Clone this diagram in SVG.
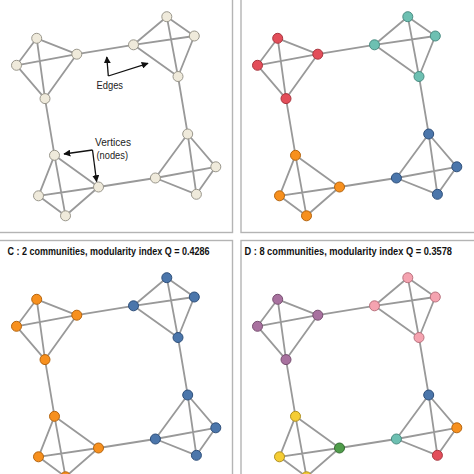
<svg xmlns="http://www.w3.org/2000/svg" xmlns:xlink="http://www.w3.org/1999/xlink" width="474" height="474" viewBox="0 0 474 474">
<style>
.frame{fill:none;stroke:#b4b4b4;stroke-width:1.4}
.e{stroke:#999999;stroke-width:1.8;fill:none}
circle{stroke-width:1;r:5px}
.bg{fill:#efeadb;stroke:#9a978c}
.rd{fill:#e34e5a;stroke:#a8363f}
.tl{fill:#6dc0b2;stroke:#4a8c82}
.or{fill:#f7901e;stroke:#b5650f}
.bl{fill:#4b76ab;stroke:#2e4f7a}
.pu{fill:#a8719f;stroke:#774f70}
.pk{fill:#f5a3b0;stroke:#b9727e}
.ye{fill:#f5cd34;stroke:#b09020}
.gr{fill:#4f9c4a;stroke:#336b30}
.lbl{font-family:"Liberation Sans",Arial,sans-serif;font-size:11.5px;fill:#222}
.ttl{font-family:"Liberation Sans",Arial,sans-serif;font-size:10px;font-weight:bold;fill:#111}
.ar{stroke:#111;stroke-width:1.3;fill:none}
</style>
<defs>
<marker id="ah" viewBox="0 0 10 10" refX="9" refY="5" markerWidth="7" markerHeight="7" markerUnits="userSpaceOnUse" orient="auto">
<path d="M0,0 L10,5 L0,10 z" fill="#111"/>
</marker>
<g id="edges">
<path class="e" d="M36.7,38.3L16.5,65.3M36.7,38.3L76.8,54.2M36.7,38.3L45,98.6M16.5,65.3L76.8,54.2M16.5,65.3L45,98.6M76.8,54.2L45,98.6"/>
<path class="e" d="M166.8,16.7L194.3,36M166.8,16.7L133.5,44.8M166.8,16.7L178,76.5M133.5,44.8L194.3,36M133.5,44.8L178,76.5M194.3,36L178,76.5"/>
<path class="e" d="M54.5,155.3L38.5,195.8M54.5,155.3L98.5,187M54.5,155.3L65.5,215.8M38.5,195.8L98.5,187M38.5,195.8L65.5,215.8M98.5,187L65.5,215.8"/>
<path class="e" d="M187.7,134L215.8,166.8M187.7,134L155.4,178M187.7,134L196.4,194.3M155.4,178L215.8,166.8M155.4,178L196.4,194.3M215.8,166.8L196.4,194.3"/>
<path class="e" d="M76.8,54.2L133.5,44.8M178,76.5L187.7,134M45,98.6L54.5,155.3M98.5,187L155.4,178"/>
</g>
</defs>
<g id="frames">
<rect class="frame" x="-5" y="-5" width="237.5" height="237.5"/>
<rect class="frame" x="241" y="-5" width="245" height="237.5"/>
<rect class="frame" x="-5" y="240.5" width="237.5" height="245"/>
<rect class="frame" x="241" y="240.5" width="245" height="245"/>
</g>
<g id="connectors">
<use xlink:href="#edges"/>
<use xlink:href="#edges" transform="translate(241,0)"/>
<use xlink:href="#edges" transform="translate(0,261)"/>
<use xlink:href="#edges" transform="translate(241,261)"/>
</g>
<g id="panelA">
<g id="A1"><circle class="bg" cx="36.7" cy="38.3" r="5"/></g>
<g id="A2"><circle class="bg" cx="16.5" cy="65.3" r="5"/></g>
<g id="A3"><circle class="bg" cx="76.8" cy="54.2" r="5"/></g>
<g id="A4"><circle class="bg" cx="45" cy="98.6" r="5"/></g>
<g id="A5"><circle class="bg" cx="166.8" cy="16.7" r="5"/></g>
<g id="A6"><circle class="bg" cx="194.3" cy="36" r="5"/></g>
<g id="A7"><circle class="bg" cx="133.5" cy="44.8" r="5"/></g>
<g id="A8"><circle class="bg" cx="178" cy="76.5" r="5"/></g>
<g id="A9"><circle class="bg" cx="54.5" cy="155.3" r="5"/></g>
<g id="A10"><circle class="bg" cx="38.5" cy="195.8" r="5"/></g>
<g id="A11"><circle class="bg" cx="98.5" cy="187" r="5"/></g>
<g id="A12"><circle class="bg" cx="65.5" cy="215.8" r="5"/></g>
<g id="A13"><circle class="bg" cx="187.7" cy="134" r="5"/></g>
<g id="A14"><circle class="bg" cx="215.8" cy="166.8" r="5"/></g>
<g id="A15"><circle class="bg" cx="155.4" cy="178" r="5"/></g>
<g id="A16"><circle class="bg" cx="196.4" cy="194.3" r="5"/></g>
</g>
<g id="annotations">
<path class="ar" d="M108.3,76 L106.8,57" marker-end="url(#ah)"/>
<path class="ar" d="M108.3,76 L148,63.3" marker-end="url(#ah)"/>
<text class="lbl" x="96.5" y="88.5" textLength="26.5" lengthAdjust="spacingAndGlyphs">Edges</text>
<path class="ar" d="M92.5,150 L64,154" marker-end="url(#ah)"/>
<path class="ar" d="M92.5,150 L96.6,181.5" marker-end="url(#ah)"/>
<text class="lbl" x="95" y="145.5" textLength="36" lengthAdjust="spacingAndGlyphs">Vertices</text>
<text class="lbl" x="96.5" y="158.5" textLength="31.5" lengthAdjust="spacingAndGlyphs">(nodes)</text>
</g>
<g id="panelB" transform="translate(241,0)">
<g id="B1"><circle class="rd" cx="36.7" cy="38.3" r="5"/></g>
<g id="B2"><circle class="rd" cx="16.5" cy="65.3" r="5"/></g>
<g id="B3"><circle class="rd" cx="76.8" cy="54.2" r="5"/></g>
<g id="B4"><circle class="rd" cx="45" cy="98.6" r="5"/></g>
<g id="B5"><circle class="tl" cx="166.8" cy="16.7" r="5"/></g>
<g id="B6"><circle class="tl" cx="194.3" cy="36" r="5"/></g>
<g id="B7"><circle class="tl" cx="133.5" cy="44.8" r="5"/></g>
<g id="B8"><circle class="tl" cx="178" cy="76.5" r="5"/></g>
<g id="B9"><circle class="or" cx="54.5" cy="155.3" r="5"/></g>
<g id="B10"><circle class="or" cx="38.5" cy="195.8" r="5"/></g>
<g id="B11"><circle class="or" cx="98.5" cy="187" r="5"/></g>
<g id="B12"><circle class="or" cx="65.5" cy="215.8" r="5"/></g>
<g id="B13"><circle class="bl" cx="187.7" cy="134" r="5"/></g>
<g id="B14"><circle class="bl" cx="215.8" cy="166.8" r="5"/></g>
<g id="B15"><circle class="bl" cx="155.4" cy="178" r="5"/></g>
<g id="B16"><circle class="bl" cx="196.4" cy="194.3" r="5"/></g>
</g>
<g id="panelC" transform="translate(0,261)">
<g id="C1"><circle class="or" cx="36.7" cy="38.3" r="5"/></g>
<g id="C2"><circle class="or" cx="16.5" cy="65.3" r="5"/></g>
<g id="C3"><circle class="or" cx="76.8" cy="54.2" r="5"/></g>
<g id="C4"><circle class="or" cx="45" cy="98.6" r="5"/></g>
<g id="C5"><circle class="bl" cx="166.8" cy="16.7" r="5"/></g>
<g id="C6"><circle class="bl" cx="194.3" cy="36" r="5"/></g>
<g id="C7"><circle class="bl" cx="133.5" cy="44.8" r="5"/></g>
<g id="C8"><circle class="bl" cx="178" cy="76.5" r="5"/></g>
<g id="C9"><circle class="or" cx="54.5" cy="155.3" r="5"/></g>
<g id="C10"><circle class="or" cx="38.5" cy="195.8" r="5"/></g>
<g id="C11"><circle class="or" cx="98.5" cy="187" r="5"/></g>
<g id="C12"><circle class="or" cx="65.5" cy="215.8" r="5"/></g>
<g id="C13"><circle class="bl" cx="187.7" cy="134" r="5"/></g>
<g id="C14"><circle class="bl" cx="215.8" cy="166.8" r="5"/></g>
<g id="C15"><circle class="bl" cx="155.4" cy="178" r="5"/></g>
<g id="C16"><circle class="bl" cx="196.4" cy="194.3" r="5"/></g>
</g>
<g id="panelD" transform="translate(241,261)">
<g id="D1"><circle class="pu" cx="36.7" cy="38.3" r="5"/></g>
<g id="D2"><circle class="pu" cx="16.5" cy="65.3" r="5"/></g>
<g id="D3"><circle class="pu" cx="76.8" cy="54.2" r="5"/></g>
<g id="D4"><circle class="pu" cx="45" cy="98.6" r="5"/></g>
<g id="D5"><circle class="pk" cx="166.8" cy="16.7" r="5"/></g>
<g id="D6"><circle class="pk" cx="194.3" cy="36" r="5"/></g>
<g id="D7"><circle class="pk" cx="133.5" cy="44.8" r="5"/></g>
<g id="D8"><circle class="pk" cx="178" cy="76.5" r="5"/></g>
<g id="D9"><circle class="ye" cx="54.5" cy="155.3" r="5"/></g>
<g id="D10"><circle class="ye" cx="38.5" cy="195.8" r="5"/></g>
<g id="D11"><circle class="gr" cx="98.5" cy="187" r="5"/></g>
<g id="D12"><circle class="ye" cx="65.5" cy="215.8" r="5"/></g>
<g id="D13"><circle class="bl" cx="187.7" cy="134" r="5"/></g>
<g id="D14"><circle class="or" cx="215.8" cy="166.8" r="5"/></g>
<g id="D15"><circle class="tl" cx="155.4" cy="178" r="5"/></g>
<g id="D16"><circle class="rd" cx="196.4" cy="194.3" r="5"/></g>
</g>
<g id="titles">
<text class="ttl" x="7.5" y="254.5" textLength="202" lengthAdjust="spacingAndGlyphs">C : 2 communities, modularity index Q = 0.4286</text>
<text class="ttl" x="244.5" y="254.5" textLength="207.5" lengthAdjust="spacingAndGlyphs">D : 8 communities, modularity index Q = 0.3578</text>
</g>
</svg>
